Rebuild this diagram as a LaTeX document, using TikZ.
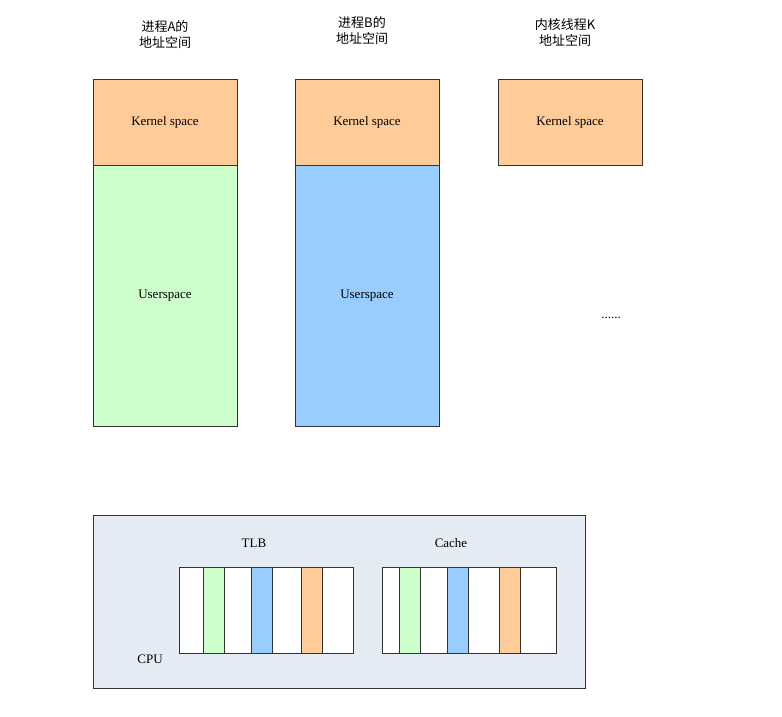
\documentclass[tikz,border=0pt]{standalone}
\usepackage{fontspec}
\setmainfont{Liberation Serif}
\newfontfamily\cjk{Noto Sans CJK SC}
\usetikzlibrary{patterns}
\definecolor{korange}{HTML}{FFCC99}
\definecolor{ugreen}{HTML}{CCFFCC}
\definecolor{ublue}{HTML}{99CCFF}
\definecolor{cpubg}{HTML}{E6ECF6}
\begin{document}
\begin{tikzpicture}[x=1pt,y=-1pt,
  box/.style={draw=black!80,line width=0.8pt},
  lbl/.style={font=\fontsize{13}{15}\selectfont},
  ttl/.style={font=\fontsize{13}{16}\selectfont\cjk,align=center}]
\useasboundingbox (0,0) rectangle (782,717);
% titles
\node[ttl] (tA) at (165,35) {进程A的\\地址空间};
\node[ttl] (tB) at (362,31) {进程B的\\地址空间};
\node[ttl] (tK) at (565,33) {内核线程K\\地址空间};
% process A
\draw[box,fill=korange] (93,79) rectangle (237,165);
\draw[box,fill=ugreen] (93,165) rectangle (237,426);
\node[lbl] (kA) at (165,122) {Kernel space};
\node[lbl] (uA) at (165,296) {Userspace};
% process B
\draw[box,fill=korange] (295,79) rectangle (439,165);
\draw[box,fill=ublue] (295,165) rectangle (439,426);
\node[lbl] (kB) at (367,122) {Kernel space};
\node[lbl] (uB) at (367,296) {Userspace};
% kernel thread
\draw[box,fill=korange] (498,79) rectangle (642,165);
\node[lbl] (kK) at (570,122) {Kernel space};
\node[lbl] (dots) at (611,318) {......};
% CPU
\draw[box,fill=cpubg] (93,515) rectangle (585,688);
\fill[pattern=dots,pattern color=black!12] (93,515) rectangle (585,688);
\draw[box] (93,515) rectangle (585,688);
\node[lbl] (cpu) at (150,659) {CPU};
\node[lbl] (tlb) at (254,543) {TLB};
\node[lbl] (cache) at (451,543) {Cache};
\draw[box,fill=white] (179,567) rectangle (353,653);
\draw[box,fill=ugreen] (203,567) rectangle (224,653);
\draw[box,fill=ublue] (251,567) rectangle (272,653);
\draw[box,fill=korange] (301,567) rectangle (322,653);
\draw[box,fill=white] (382,567) rectangle (556,653);
\draw[box,fill=ugreen] (399,567) rectangle (420,653);
\draw[box,fill=ublue] (447,567) rectangle (468,653);
\draw[box,fill=korange] (499,567) rectangle (520,653);
\end{tikzpicture}
\end{document}
